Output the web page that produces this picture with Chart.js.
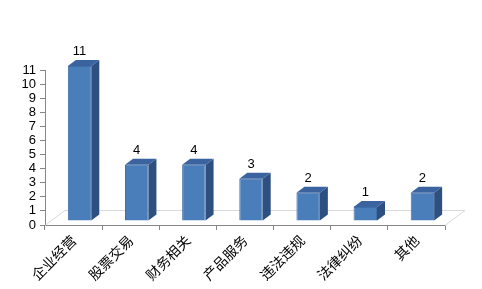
<!DOCTYPE html>
<html>
<head>
<meta charset="utf-8">
<script src="https://cdn.jsdelivr.net/npm/chart.js@4"></script>
<style>
    html, body { margin: 0; padding: 0; background: #fff; }
    canvas { display: block; }
</style>
</head>
<body>
<canvas id="barChart" width="482" height="289"></canvas>
<script>
var categories = ["企业经营", "股票交易", "财务相关", "产品服务", "违法违规", "法律纠纷", "其他"];
var counts = [11, 4, 4, 3, 2, 1, 2];
var yTicks = [0, 1, 2, 3, 4, 5, 6, 7, 8, 9, 10, 11];

// fake 3D look: shift the bars a bit and add side/top faces
var shiftX = 6, shiftY = -4;
var depthX = 8, depthY = -6;

var bar3d = {
    id: "bar3d",
    beforeDatasetsDraw: function(chart) {
        var ctx = chart.ctx;
        var a = chart.chartArea;
        ctx.save();
        ctx.strokeStyle = "#d9d9d9";
        ctx.lineWidth = 1;
        ctx.beginPath();
        ctx.moveTo(a.left, a.bottom + 0.5);
        ctx.lineTo(a.left + 20, a.bottom - 14.5);
        ctx.lineTo(a.right + 20, a.bottom - 14.5);
        ctx.lineTo(a.right, a.bottom + 0.5);
        ctx.stroke();
        ctx.restore();
        ctx.save();
        ctx.translate(shiftX, shiftY);
    },
    afterDatasetsDraw: function(chart) {
        var ctx = chart.ctx;
        var meta = chart.getDatasetMeta(0);
        meta.data.forEach(function(bar, i) {
            var l = bar.x - bar.width / 2, r = bar.x + bar.width / 2;
            var t = bar.y, b = bar.base;
            // side
            ctx.fillStyle = "#2d5080";
            ctx.beginPath();
            ctx.moveTo(r, b);
            ctx.lineTo(r + depthX, b + depthY);
            ctx.lineTo(r + depthX, t + depthY);
            ctx.lineTo(r, t);
            ctx.closePath();
            ctx.fill();
            // top
            ctx.fillStyle = "#3a63a0";
            ctx.beginPath();
            ctx.moveTo(l, t);
            ctx.lineTo(l + depthX, t + depthY);
            ctx.lineTo(r + depthX, t + depthY);
            ctx.lineTo(r, t);
            ctx.closePath();
            ctx.fill();
            // value label
            ctx.fillStyle = "#000";
            ctx.font = "13px 'Liberation Sans', Arial, sans-serif";
            ctx.textAlign = "center";
            ctx.textBaseline = "bottom";
            ctx.fillText(counts[i], bar.x, t + depthY - 2);
        });
        ctx.restore();
    }
};

var ctx1 = document.getElementById("barChart");

var chart1 = new Chart(ctx1, {
    type: "bar",
    data: {
        labels: categories,
        datasets: [
            {
                label: "数量",
                data: counts,
                backgroundColor: "#4a7ebb",
                borderColor: "#3f6fa8",
                borderWidth: 1,
                barPercentage: 0.41,
                categoryPercentage: 1
            }
        ]
    },
    options: {
        responsive: false,
        animation: false,
        devicePixelRatio: 1,
        layout: {
            padding: { left: 0, right: 37, top: 70, bottom: 0 }
        },
        plugins: {
            legend: { display: false },
            tooltip: { enabled: false }
        },
        scales: {
            x: {
                offset: true,
                grid: {
                    display: true,
                    drawOnChartArea: false,
                    offset: true,
                    tickLength: 5,
                    color: "#868686"
                },
                border: { color: "#868686" },
                ticks: {
                    minRotation: 45,
                    maxRotation: 45,
                    autoSkip: false,
                    padding: 2,
                    color: "#000",
                    font: { family: "'Noto Sans CJK SC'", size: 14 }
                },
                afterFit: function(scale) { scale.height = 64; }
            },
            y: {
                min: 0,
                max: 11,
                afterBuildTicks: function(scale) {
                    scale.ticks = yTicks.map(function(v) { return { value: v }; });
                },
                grid: {
                    display: true,
                    drawOnChartArea: false,
                    tickLength: 5,
                    color: "#868686"
                },
                border: { color: "#868686" },
                ticks: {
                    autoSkip: false,
                    padding: 4,
                    color: "#000",
                    font: { family: "'Liberation Sans', Arial, sans-serif", size: 13 }
                },
                afterFit: function(scale) { scale.width = 45; }
            }
        }
    },
    plugins: [bar3d]
});
</script>
</body>
</html>
